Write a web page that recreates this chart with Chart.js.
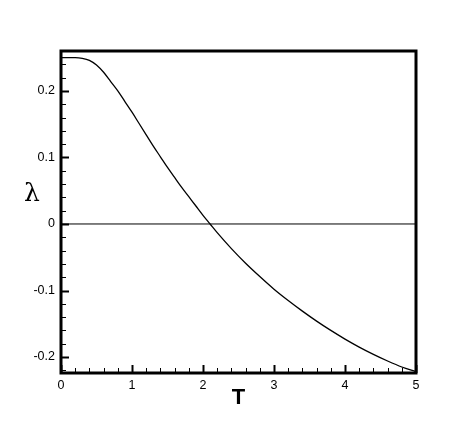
<!DOCTYPE html>
<html>
<head>
<meta charset="utf-8">
<script src="https://cdn.jsdelivr.net/npm/chart.js@4.4.1/dist/chart.umd.min.js"></script>
<style>
html,body{margin:0;padding:0;background:#fff;}
#wrap{width:474px;height:421px;}
</style>
</head>
<body>
<div id="wrap"><canvas id="c" width="474" height="421"></canvas></div>
<script>
const tValues = [0, 0.1, 0.2, 0.3, 0.4, 0.5, 0.6, 0.7, 0.8, 0.9, 1.0, 1.1, 1.2, 1.3, 1.4, 1.5, 1.6, 1.7, 1.8, 1.9, 2.0, 2.1, 2.2, 2.4, 2.6, 2.8, 3.0, 3.2, 3.4, 3.6, 3.8, 4.0, 4.2, 4.4, 4.6, 4.8, 5.0];
const lambdaValues = [0.25, 0.25, 0.25, 0.249, 0.246, 0.239, 0.228, 0.214, 0.200, 0.184, 0.168, 0.151, 0.134, 0.117, 0.101, 0.085, 0.070, 0.055, 0.041, 0.027, 0.013, 0.000, -0.013, -0.037, -0.059, -0.079, -0.098, -0.115, -0.131, -0.146, -0.160, -0.173, -0.185, -0.196, -0.206, -0.215, -0.222];
const zeroLineT = [0, 5];
const zeroLineValues = [0, 0];
const xTickValues = [0, 1, 2, 3, 4, 5];
const xTickLabels = ['0', '1', '2', '3', '4', '5'];
const yTickValues = [0.2, 0.1, 0, -0.1, -0.2];
const yTickLabels = ['0.2', '0.1', '0', '-0.1', '-0.2'];
const xTitle = 'T';
const yTitle = 'λ';

const frame = {
  id: 'frame',
  afterDraw(chart) {
    const ctx = chart.ctx, a = chart.chartArea;
    const xs = chart.scales.x, ys = chart.scales.y;
    ctx.save();
    ctx.strokeStyle = '#000';
    for (let i = 0; i <= 25; i++) {
      const v = i * 0.2;
      const px = Math.round(xs.getPixelForValue(v)) + 0.5;
      const major = i % 5 === 0;
      ctx.lineWidth = major ? 2 : 1;
      ctx.beginPath();
      ctx.moveTo(px, a.bottom);
      ctx.lineTo(px, a.bottom - (major ? 8 : 5));
      ctx.stroke();
    }
    for (let i = -11; i <= 13; i++) {
      const v = i * 0.02;
      const py = Math.round(ys.getPixelForValue(v)) + 0.5;
      if (py < a.top + 2 || py > a.bottom - 2) continue;
      const major = i % 5 === 0;
      ctx.lineWidth = major ? 2 : 1;
      ctx.beginPath();
      ctx.moveTo(a.left, py);
      ctx.lineTo(a.left + (major ? 8 : 5), py);
      ctx.stroke();
    }
    ctx.lineWidth = 3;
    ctx.strokeRect(a.left, a.top, a.right - a.left, a.bottom - a.top);
    ctx.fillStyle = '#000';
    ctx.textAlign = 'center';
    ctx.textBaseline = 'middle';
    ctx.font = '25px "DejaVu Serif", "Liberation Serif", serif';
    ctx.fillText(yTitle, 32, 194);
    ctx.font = 'bold 22px "Liberation Sans", Arial, sans-serif';
    ctx.fillText(xTitle, (a.left + a.right) / 2, 398);
    ctx.restore();
  }
};

new Chart(document.getElementById('c'), {
  type: 'scatter',
  data: {
    datasets: [
      {
        data: tValues.map((t, i) => ({x: t, y: lambdaValues[i]})),
        showLine: true,
        borderColor: '#000',
        borderWidth: 1.3,
        pointRadius: 0,
        cubicInterpolationMode: 'monotone',
        fill: false
      },
      {
        data: zeroLineT.map((t, i) => ({x: t, y: zeroLineValues[i]})),
        showLine: true,
        borderColor: '#000',
        borderWidth: 1,
        pointRadius: 0,
        fill: false
      }
    ]
  },
  options: {
    responsive: false,
    animation: false,
    events: [],
    layout: {padding: {left: 0, right: 58, top: 51, bottom: 0}},
    plugins: {legend: {display: false}, tooltip: {enabled: false}},
    scales: {
      x: {
        type: 'linear',
        min: 0, max: 5,
        grid: {display: false, drawTicks: false},
        border: {display: false},
        afterBuildTicks(s) { s.ticks = xTickValues.map(v => ({value: v})); },
        afterFit(s) { s.height = 48; },
        ticks: {
          padding: 5,
          color: '#000',
          font: {family: '"Liberation Sans", Arial, sans-serif', size: 12.5},
          callback: (v) => { const i = xTickValues.indexOf(v); return i >= 0 ? xTickLabels[i] : ''; }
        }
      },
      y: {
        type: 'linear',
        min: -0.224, max: 0.26,
        grid: {display: false, drawTicks: false},
        border: {display: false},
        afterBuildTicks(s) { s.ticks = yTickValues.map(v => ({value: v})); },
        afterFit(s) { s.width = 61; },
        ticks: {
          padding: 6,
          color: '#000',
          font: {family: '"Liberation Sans", Arial, sans-serif', size: 12.5},
          callback: (v) => { const i = yTickValues.findIndex(t => Math.abs(t - v) < 1e-9); return i >= 0 ? yTickLabels[i] : ''; }
        }
      }
    }
  },
  plugins: [frame]
});
</script>
</body>
</html>
